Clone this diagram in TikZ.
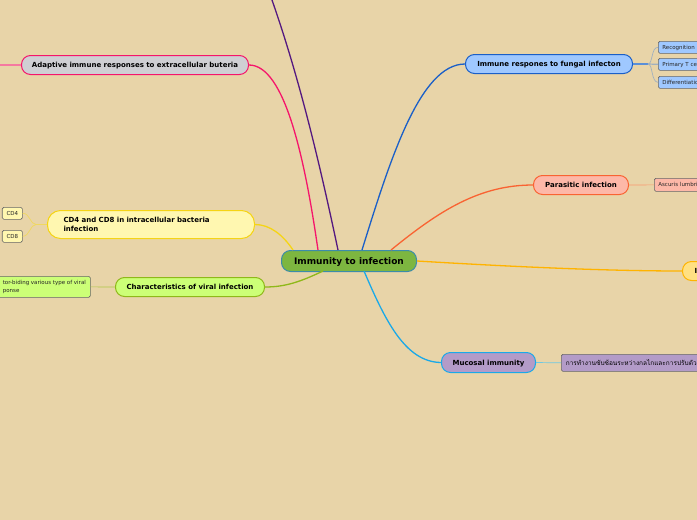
\documentclass[tikz,border=0pt]{standalone}
\usepackage{fontspec}
\setmainfont{DejaVu Sans}
\newfontfamily\thaifont[Script=Thai]{Loma}
\usepackage{tikz}
\definecolor{mybg}{RGB}{232,212,168}
\definecolor{myroot}{RGB}{125,182,64}
\tikzstyle{topic}=[draw,rounded corners=9pt,line width=1pt,inner sep=0pt,text depth=0pt,font=\fontsize{7}{8.5}\selectfont\bfseries,text=black,anchor=north west]
\tikzstyle{leaf}=[draw=black!60,rounded corners=1.5pt,line width=0.7pt,inner sep=0pt,text depth=0pt,font=\fontsize{5.5}{8}\selectfont,text=black!85,anchor=north west]
\tikzstyle{link}=[line width=1.3pt]
\tikzstyle{twig}=[line width=0.7pt]
\begin{document}
\begin{tikzpicture}[x=1pt,y=-1pt]
\useasboundingbox (0,0) rectangle (697,520);
\fill [mybg] (0,0) rectangle (697,520);
\clip (0,0) rectangle (697,520);
% main topics
\node [topic,fill=myroot,draw={rgb,255:red,60;green,140;blue,170},minimum width=135pt,minimum height=21pt,font=\fontsize{9}{11}\selectfont\bfseries] (r0) at (281,250) {Immunity to infection};
\node [topic,fill={rgb,255:red,207;green,207;blue,211},draw={rgb,255:red,245;green,21;blue,107},minimum width=227pt,minimum height=19pt] (r1) at (21,55) {Adaptive immune responses to extracellular buteria};
\node [topic,fill={rgb,255:red,159;green,200;blue,255},draw={rgb,255:red,26;green,95;blue,200},minimum width=167pt,minimum height=19pt] (r2) at (465,54) {Immune respones to fungal infecton};
\node [topic,fill={rgb,255:red,253;green,184;blue,168},draw={rgb,255:red,249;green,99;blue,50},minimum width=95pt,minimum height=19pt] (r3) at (533,175) {Parasitic infection};
\node [topic,fill={rgb,255:red,255;green,224;blue,130},draw={rgb,255:red,255;green,179;blue,0},minimum width=60pt,minimum height=19pt,text width=48pt,align=left] (r4) at (682,261) {\hspace*{6pt}I};
\node [topic,fill={rgb,255:red,179;green,155;blue,200},draw={rgb,255:red,27;green,169;blue,232},minimum width=94pt,minimum height=20pt] (r5) at (441,352) {Mucosal immunity};
\node [topic,fill={rgb,255:red,255;green,247;blue,176},draw={rgb,255:red,245;green,212;blue,21},minimum width=207pt,minimum height=28pt,text width=175pt,text depth={},align=left,rounded corners=13pt] (r6) at (47,210) {CD4 and CD8 in intracellular bacteria\\infection};
\node [topic,fill={rgb,255:red,204;green,255;blue,119},draw={rgb,255:red,143;green,184;blue,26},minimum width=149pt,minimum height=19pt] (r7) at (115,277) {Characteristics of viral infection};
% leaves
\node [leaf,fill={rgb,255:red,159;green,200;blue,255},minimum width=60pt,minimum height=12pt,text width=52pt,align=left] (f1) at (658,41) {Recognition};
\node [leaf,fill={rgb,255:red,159;green,200;blue,255},minimum width=60pt,minimum height=12pt,text width=52pt,align=left] (f2) at (658,58) {Primary T ce};
\node [leaf,fill={rgb,255:red,159;green,200;blue,255},minimum width=60pt,minimum height=12pt,text width=52pt,align=left] (f3) at (658,76) {Differentiatio};
\node [leaf,fill={rgb,255:red,253;green,184;blue,168},minimum width=60pt,minimum height=13pt,text width=52pt,align=left] (p1) at (654,178) {Ascuris lumbri};
\node [leaf,fill={rgb,255:red,179;green,155;blue,200},minimum width=150pt,minimum height=17pt,text width=141pt,align=left,text=black,font=\fontsize{6.5}{9}\thaifont] (m1) at (561,354) {การทำงานซับซ้อนระหว่างกลไกและการปรับตัว};
\node [leaf,fill={rgb,255:red,255;green,247;blue,176},minimum width=20pt,minimum height=12pt] (c1) at (2,207) {CD4};
\node [leaf,fill={rgb,255:red,255;green,247;blue,176},minimum width=20pt,minimum height=12pt] (c2) at (2,230) {CD8};
\node [leaf,fill={rgb,255:red,204;green,255;blue,119},minimum width=92pt,minimum height=21pt,text depth={},align=left,font=\fontsize{5.5}{8}\selectfont] (v1) at (-2,276) {tor-biding various type of viral\\ponse};
% free ends
\coordinate (e1) at (272,0);
\coordinate (e2) at (0,65);
\coordinate (j1) at (648,64);
\coordinate (j2) at (36,224.5);
% links from the root
\draw [link,color={rgb,255:red,245;green,21;blue,107}] (318,250) .. controls (305,160) and (285,65) .. (r1.east);
\draw [link,color={rgb,255:red,84;green,24;blue,128}] (338,250) .. controls (320,165) and (300,80) .. (e1);
\draw [link,color={rgb,255:red,26;green,95;blue,200}] (362,250) .. controls (390,160) and (420,64) .. (r2.west);
\draw [link,color={rgb,255:red,249;green,99;blue,50}] (391,250) .. controls (440,210) and (480,185) .. (r3.west);
\draw [link,color={rgb,255:red,255;green,179;blue,0}] (r0.east) .. controls (500,266) and (600,271) .. (r4.west);
\draw [link,color={rgb,255:red,27;green,169;blue,232}] (364,271) .. controls (385,320) and (405,362) .. (r5.west);
\draw [link,color={rgb,255:red,245;green,212;blue,21}] (293,250) .. controls (283,235) and (270,224.5) .. (r6.east);
\draw [link,color={rgb,255:red,143;green,184;blue,26}] (323,271) .. controls (300,282) and (285,287) .. (r7.east);
% links to the leaves
\draw [link,color={rgb,255:red,245;green,120;blue,160}] (r1.west) -- (e2);
\draw [line width=1.5pt,color={rgb,255:red,90;green,143;blue,216}] (r2.east) -- (j1);
\draw [twig,color={rgb,255:red,160;green,176;blue,192}] (j1) .. controls (653,64) and (651,47) .. (f1.west);
\draw [line width=1.2pt,color={rgb,255:red,160;green,176;blue,192}] (j1) -- (f2.west);
\draw [twig,color={rgb,255:red,160;green,176;blue,192}] (j1) .. controls (653,64) and (651,82) .. (f3.west);
\draw [twig,color={rgb,255:red,250;green,150;blue,110}] (r3.east) -- (p1.west);
\draw [twig,color={rgb,255:red,110;green,200;blue,225}] (r5.east) -- (m1.west);
\draw [twig,color={rgb,255:red,240;green,216;blue,96}] (r6.west) -- (j2);
\draw [twig,color={rgb,255:red,240;green,216;blue,96}] (j2) .. controls (30,224.5) and (30,213) .. (c1.east);
\draw [twig,color={rgb,255:red,240;green,216;blue,96}] (j2) .. controls (30,224.5) and (30,236) .. (c2.east);
\draw [twig,color={rgb,255:red,175;green,200;blue,70}] (r7.west) -- (v1.east);
\end{tikzpicture}
\end{document}
